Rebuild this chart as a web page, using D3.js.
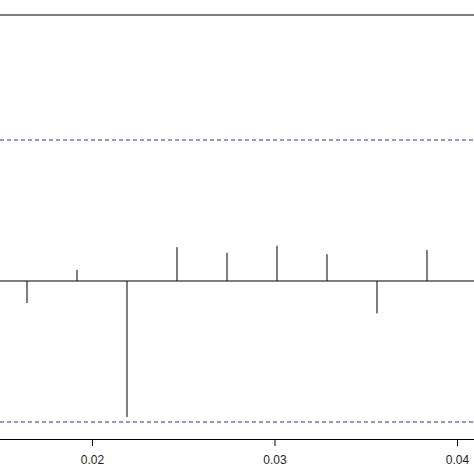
<!DOCTYPE html>
<html>
<head>
<meta charset="utf-8">
<script src="https://cdn.jsdelivr.net/npm/d3@7"></script>
<style>
  body { margin: 0; background: #fff; }
  svg { display: block; }
</style>
</head>
<body>
<svg width="474" height="474"></svg>
<script>
const lags = [6, 7, 8, 9, 10, 11, 12, 13, 14].map(k => k / 365)
const acf = [-0.0156, 0.0078, -0.0965, 0.024, 0.020, 0.025, 0.019, -0.023, 0.022]
const ci = 0.1
const xTicks = [0.02, 0.03, 0.04]

const svg = d3.select('svg')
const width = +svg.attr('width')

const x = d3.scaleLinear().domain([0.014959, 0.040932]).range([0, width])
const y = d3.scaleLinear().domain([-0.11206, 0.18865]).range([439, 15])

// top of the box
svg.append('line')
  .attr('x1', 0).attr('x2', width)
  .attr('y1', y.range()[1]).attr('y2', y.range()[1])
  .attr('stroke', '#000')

// zero line
svg.append('line')
  .attr('x1', 0).attr('x2', width)
  .attr('y1', y(0)).attr('y2', y(0))
  .attr('stroke', '#000')

// confidence bands
svg.selectAll('line.ci').data([ci, -ci])
  .enter().append('line')
    .attr('class', 'ci')
    .attr('x1', 0).attr('x2', width)
    .attr('y1', d => y(d)).attr('y2', d => y(d))
    .attr('stroke', '#2b2b9a')
    .attr('stroke-dasharray', '4,3')

// acf spikes
svg.selectAll('line.spike').data(acf)
  .enter().append('line')
    .attr('class', 'spike')
    .attr('x1', (d, i) => x(lags[i])).attr('x2', (d, i) => x(lags[i]))
    .attr('y1', y(0)).attr('y2', d => y(d))
    .attr('stroke', '#000')

const axis = d3.axisBottom(x).tickValues(xTicks).tickSize(7).tickPadding(9)
  .tickFormat(d3.format('.2f'))
const g = svg.append('g').attr('transform', `translate(0,439)`).call(axis)
g.select('.domain').attr('d', `M0,0.5H${width}`)
g.selectAll('text').attr('font-family', 'Liberation Sans, Arial, sans-serif').attr('font-size', 12).attr('fill', '#222')
</script>
</body>
</html>
